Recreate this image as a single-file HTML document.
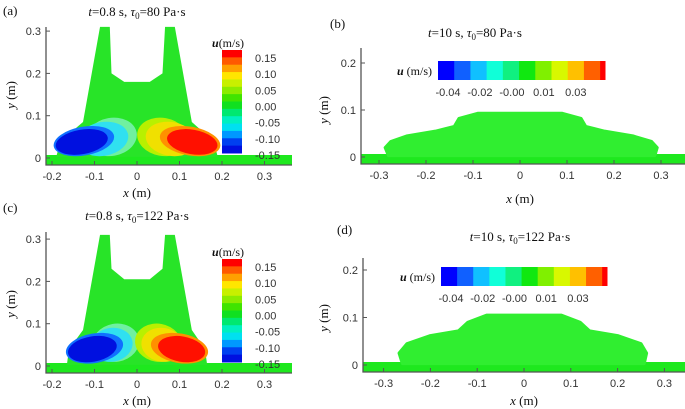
<!DOCTYPE html>
<html><head><meta charset="utf-8">
<style>
html,body{margin:0;padding:0;background:#fff;}
svg{display:block;}
text{font-family:"Liberation Sans",sans-serif;fill:#333;}
.ser{font-family:"Liberation Serif",serif;fill:#111;}
</style></head>
<body>
<svg id="fig" width="685" height="409" viewBox="0 0 685 409" xmlns="http://www.w3.org/2000/svg"></svg>
<script>
// ---- data ----
const xTicksLeft = [-0.2,-0.1,0,0.1,0.2,0.3];
const yTicksLeft = [0,0.1,0.2,0.3];
const xTicksRight = [-0.3,-0.2,-0.1,0,0.1,0.2,0.3];
const yTicksRight = [0,0.1,0.2];
const cbLabelsLeft = ["0.15","0.10","0.05","0.00","-0.05","-0.10","-0.15"];
const cbColorsLeft = ["#ff0000","#ff5a00","#ffa000","#ffe600","#c8f000","#8cec00","#40e400","#10e020","#00e870","#00f0c0","#00e0f0","#0098ff","#0040f0","#0010e0"];
const cbLabelsRight = ["-0.04","-0.02","-0.00","0.01","0.03"];
const cbColorsRight = ["#0000ff","#1060ff","#10c0ff","#10ffd8","#10f080","#10e810","#80f000","#d8f800","#ffc000","#ff6000","#ff0000"];
const moundB = [[-0.28,0.003],[-0.287,0.02],[-0.275,0.033],[-0.24,0.045],[-0.18,0.055],[-0.14,0.065],[-0.13,0.082],[-0.09,0.093],[0.09,0.093],[0.13,0.082],[0.14,0.065],[0.18,0.055],[0.24,0.045],[0.28,0.033],[0.292,0.02],[0.287,0.003]];
const moundD = [[-0.26,0.003],[-0.267,0.025],[-0.25,0.045],[-0.2,0.062],[-0.14,0.072],[-0.12,0.09],[-0.08,0.105],[0.08,0.105],[0.12,0.09],[0.14,0.072],[0.2,0.062],[0.25,0.045],[0.262,0.025],[0.257,0.003]];
const gateA = [[-0.087,0.31],[-0.064,0.31],[-0.06,0.2],[-0.03,0.18],[0.03,0.18],[0.06,0.2],[0.066,0.31],[0.089,0.31],[0.129,0.085],[0.18,0.04],[0.19,0.003],[-0.19,0.003],[-0.18,0.04],[-0.127,0.085]];
const gateC = [[-0.087,0.31],[-0.064,0.31],[-0.06,0.23],[-0.03,0.205],[0.03,0.205],[0.06,0.23],[0.066,0.31],[0.089,0.31],[0.129,0.085],[0.16,0.04],[0.165,0.003],[-0.165,0.003],[-0.16,0.04],[-0.127,0.085]];
// blobs: [cx, cy, rx, ry, colour]
const blobsA = [[-0.06,0.05,0.06,0.045,"#70f0a0"],[-0.08,0.045,0.06,0.04,"#30e0f0"],[-0.125,0.04,0.072,0.034,"#1070ff"],[-0.13,0.038,0.062,0.029,"#0010e0"],[0.06,0.05,0.06,0.045,"#b8f000"],[0.08,0.045,0.06,0.04,"#f0e000"],[0.125,0.04,0.072,0.034,"#ff9000"],[0.13,0.038,0.06,0.029,"#ff1000"]];
const blobsC = [[-0.05,0.055,0.055,0.045,"#70f0a0"],[-0.06,0.05,0.05,0.04,"#30e0f0"],[-0.1,0.042,0.068,0.035,"#1070ff"],[-0.105,0.04,0.058,0.03,"#0010e0"],[0.05,0.055,0.055,0.045,"#b8f000"],[0.06,0.05,0.05,0.04,"#f0e000"],[0.1,0.042,0.068,0.035,"#ff9000"],[0.105,0.04,0.056,0.03,"#ff1000"]];

const NS="http://www.w3.org/2000/svg";
const svg=document.getElementById('fig');
function el(tag,attrs,parent,txt){const e=document.createElementNS(NS,tag);for(const k in attrs)e.setAttribute(k,attrs[k]);if(txt!==undefined)e.textContent=txt;(parent||svg).appendChild(e);return e;}

function panel(c){
  const g=el('g',{});
  
  
  const X=v=>c.x0+v*c.sx, Y=v=>c.y0-v*c.sy;
  const gr=el('rect',{x:c.axL,y:Y(0)-3,width:c.axR-c.axL,height:10,fill:'#1ee81e'},g);
  
  
  if(c.gate){
    const p=el('polygon',{points:c.gate.map(q=>X(q[0])+','+Y(q[1])).join(' '),fill:'#28e428'},g);
    
    
    c.blobs.forEach(b=>{
      const e=el('ellipse',{cx:X(b[0]),cy:Y(b[1]),rx:b[2]*c.sx,ry:b[3]*c.sy,fill:b[4],transform:'rotate('+(b[0]<0?-10:10)+' '+X(b[0])+' '+Y(b[1])+')'},g);
      
      
    });
  }
  if(c.mound){
    const p=el('polygon',{points:c.mound.map(q=>X(q[0])+','+Y(q[1])).join(' '),fill:'#30ee30','stroke':'#30ee30','stroke-width':3,'stroke-linejoin':'round'},g);
    
    
  }
  const ax=el('path',{d:`M${c.axL},${c.axT} V${Y(0)+7} H${c.axR}`,stroke:'#555',fill:'none','stroke-width':1.3},g);
  
  
  c.xt.forEach(v=>{
    el('line',{x1:X(v),x2:X(v),y1:Y(0)+7,y2:Y(0)+3,stroke:'#555'},g);
    const t=el('text',{x:X(v),y:Y(0)+22,'text-anchor':'middle','font-size':11},g,v===0?'0':String(v));
    
    
  });
  c.yt.forEach(v=>{
    el('line',{x1:c.axL,x2:c.axL+4,y1:Y(v),y2:Y(v),stroke:'#555'},g);
    const t=el('text',{x:c.axL-5,y:Y(v)+4,'text-anchor':'end','font-size':11},g,v===0?'0':String(v));
    
    
  });
  const xl=el('text',{x:c.x0,y:c.xly,'text-anchor':'middle','font-size':13,class:'ser'},g);
  xl.innerHTML='<tspan font-style="italic">x</tspan> (m)';
  
  
  const yl=el('text',{x:0,y:0,'text-anchor':'middle','font-size':13,class:'ser',transform:`translate(${c.ylx},${c.yly}) rotate(-90)`},g);
  yl.innerHTML='<tspan font-style="italic">y</tspan> (m)';
  
  
  const tl=el('text',{x:c.tx,y:c.ty,'text-anchor':'middle','font-size':13,class:'ser'},g);
  tl.innerHTML=`<tspan font-style="italic">t</tspan>=${c.t} s, <tspan font-style="italic">τ</tspan><tspan font-size="9" dy="3">0</tspan><tspan dy="-3">=${c.tau} Pa·s</tspan>`;
  
  
  const lb=el('text',{x:c.lx,y:c.ly,'font-size':13,class:'ser'},g,'('+c.id+')');
  
  
  const cb=el('g',{},g);
  
  
  if(c.cbV){
    const n=cbColorsLeft.length,h=c.cbH/n;
    cbColorsLeft.forEach((col,i)=>el('rect',{x:c.cbX,y:c.cbY+i*h,width:20,height:h+0.5,fill:col},cb));
    cbLabelsLeft.forEach((s,i)=>{
      const t=el('text',{x:c.cbX+33,y:c.cbY+8+i*(c.cbH-6)/6+4,'font-size':11},cb,s);
      
      
    });
    const u=el('text',{x:c.cbX-10,y:c.cbY-3,'font-size':12,class:'ser'},cb);
    u.innerHTML='<tspan font-style="italic" font-weight="bold">u</tspan>(m/s)';
  } else {
    const w=c.cbW/10.3;
    cbColorsRight.forEach((col,i)=>el('rect',{x:c.cbX+i*w,y:c.cbY,width:(i===10?w*0.3:w)+0.5,height:19,fill:col},cb));
    cbLabelsRight.forEach((s,i)=>{
      const t=el('text',{x:c.cbX+10+i*(c.cbW-20)/4.6,y:c.cbY+35,'text-anchor':'middle','font-size':11},cb,s);
      
      
    });
    const u=el('text',{x:c.cbX-6,y:c.cbY+14,'text-anchor':'end','font-size':12,class:'ser'},cb);
    u.innerHTML='<tspan font-style="italic" font-weight="bold">u</tspan> (m/s)';
  }
}
panel({id:'a',x0:137,sx:425,y0:158,sy:423,axL:46,axR:292,axT:27,xt:xTicksLeft,yt:yTicksLeft,gate:gateA,blobs:blobsA,xly:197,ylx:15,yly:95,tx:137,ty:16,t:'0.8',tau:'80',lx:3,ly:15,cbV:true,cbX:222,cbY:50,cbH:103});
panel({id:'b',x0:520,sx:470,y0:157,sy:470,axL:361,axR:685,axT:48,xt:xTicksRight,yt:yTicksRight,mound:moundB,xly:203,ylx:328,yly:110,tx:475,ty:37,t:'10',tau:'80',lx:330,ly:28,cbV:false,cbX:438,cbY:61,cbW:167});
panel({id:'c',x0:137,sx:425,y0:366,sy:423,axL:46,axR:292,axT:232,xt:xTicksLeft,yt:yTicksLeft,gate:gateC,blobs:blobsC,xly:405,ylx:15,yly:304,tx:137,ty:220,t:'0.8',tau:'122',lx:3,ly:212,cbV:true,cbX:222,cbY:259,cbH:103});
panel({id:'d',x0:524,sx:468,y0:365,sy:475,axL:363,axR:685,axT:258,xt:xTicksRight,yt:yTicksRight,mound:moundD,xly:405,ylx:328,yly:318,tx:520,ty:241,t:'10',tau:'122',lx:337,ly:234,cbV:false,cbX:441,cbY:267,cbW:166});
</script>
</body></html>
